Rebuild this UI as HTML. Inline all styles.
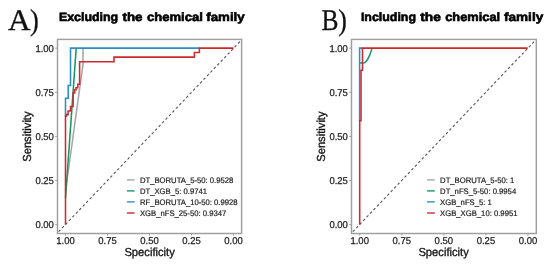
<!DOCTYPE html>
<html><head><meta charset="utf-8"><style>
html,body{margin:0;padding:0;background:#fff;}
svg{display:block;text-rendering:geometricPrecision;}
.pl{font-family:"Liberation Serif",serif;font-size:30px;fill:#111;stroke:#111;stroke-width:0.3px;}
.tt{font-family:"Liberation Sans",sans-serif;font-weight:bold;font-size:12px;fill:#000;stroke:#000;stroke-width:0.6px;}
.tk{font-family:"Liberation Sans",sans-serif;font-size:9.5px;fill:#1f1f1f;stroke:#1f1f1f;stroke-width:0.25px;}
.lg{font-family:"Liberation Sans",sans-serif;font-size:7.7px;fill:#1e1e1e;stroke:#1e1e1e;stroke-width:0.2px;}
.ax{font-family:"Liberation Sans",sans-serif;font-size:11.2px;fill:#111;stroke:#111;stroke-width:0.3px;}
</style></head><body>
<svg width="550" height="265" viewBox="0 0 550 265">
<rect width="550" height="265" fill="#fff"/>
<text x="7.9" y="30.1" class="pl" textLength="22.6" lengthAdjust="spacingAndGlyphs">A</text><text x="30.0" y="30.1" class="pl" textLength="8.8" lengthAdjust="spacingAndGlyphs">)</text>
<text x="321.6" y="30.0" class="pl" textLength="17" lengthAdjust="spacingAndGlyphs">B</text><text x="338.3" y="30.3" class="pl" textLength="8.6" lengthAdjust="spacingAndGlyphs">)</text>
<text x="58.90" y="20.5" class="tt" textLength="59.30" lengthAdjust="spacingAndGlyphs">Excluding</text>
<text x="122.50" y="20.5" class="tt" textLength="20.00" lengthAdjust="spacingAndGlyphs">the</text>
<text x="147.00" y="20.5" class="tt" textLength="55.90" lengthAdjust="spacingAndGlyphs">chemical</text>
<text x="206.30" y="20.5" class="tt" textLength="38.40" lengthAdjust="spacingAndGlyphs">family</text>
<text x="360.90" y="20.5" class="tt" textLength="55.10" lengthAdjust="spacingAndGlyphs">Including</text>
<text x="420.30" y="20.5" class="tt" textLength="20.60" lengthAdjust="spacingAndGlyphs">the</text>
<text x="445.20" y="20.5" class="tt" textLength="55.00" lengthAdjust="spacingAndGlyphs">chemical</text>
<text x="504.00" y="20.5" class="tt" textLength="39.20" lengthAdjust="spacingAndGlyphs">family</text>
<line x1="57.1" y1="233.3" x2="241.8" y2="39.6" stroke="#555" stroke-width="1.1" stroke-dasharray="2.6,2.4" stroke-dashoffset="2.8"/>
<polyline points="65.50,191.00 83.00,64.50 83.00,48.10" fill="none" stroke="#a6a6a6" stroke-width="1.55"/>
<polyline points="65.50,198.00 76.20,48.10" fill="none" stroke="#1a9768" stroke-width="1.55"/>
<polyline points="65.50,116.50 65.50,98.30 68.20,98.30 68.20,85.40 70.50,85.40 70.50,48.10 199.40,48.10" fill="none" stroke="#2b8fc4" stroke-width="1.55"/>
<polyline points="65.50,224.70 65.50,116.20 66.30,116.20 66.30,114.60 68.10,114.60 68.10,110.90 70.50,110.90 70.50,106.50 73.10,106.50 73.10,93.00 74.70,93.00 74.70,89.70 76.00,89.70 76.00,87.80 77.80,87.80 77.80,84.20 79.60,84.20 79.60,61.70 114.00,61.70 114.00,57.10 194.40,57.10 194.40,52.50 199.40,52.50 199.40,48.10 233.50,48.10" fill="none" stroke="#cf282e" stroke-width="1.55"/>
<rect x="57.5" y="39.4" width="184.10" height="194.1" fill="none" stroke="#9e9e9e" stroke-width="1.45"/>
<line x1="55.10" y1="48.10" x2="57.50" y2="48.10" stroke="#9e9e9e" stroke-width="1"/>
<text transform="translate(53.90,51.85) scale(1,1.04)" text-anchor="end" class="tk">1.00</text>
<line x1="65.50" y1="233.5" x2="65.50" y2="235.6" stroke="#9e9e9e" stroke-width="1"/>
<text transform="translate(65.50,243.60) scale(1,1.04)" text-anchor="middle" class="tk">1.00</text>
<line x1="55.10" y1="92.25" x2="57.50" y2="92.25" stroke="#9e9e9e" stroke-width="1"/>
<text transform="translate(53.90,96.00) scale(1,1.04)" text-anchor="end" class="tk">0.75</text>
<line x1="107.50" y1="233.5" x2="107.50" y2="235.6" stroke="#9e9e9e" stroke-width="1"/>
<text transform="translate(107.50,243.60) scale(1,1.04)" text-anchor="middle" class="tk">0.75</text>
<line x1="55.10" y1="136.40" x2="57.50" y2="136.40" stroke="#9e9e9e" stroke-width="1"/>
<text transform="translate(53.90,140.15) scale(1,1.04)" text-anchor="end" class="tk">0.50</text>
<line x1="149.50" y1="233.5" x2="149.50" y2="235.6" stroke="#9e9e9e" stroke-width="1"/>
<text transform="translate(149.50,243.60) scale(1,1.04)" text-anchor="middle" class="tk">0.50</text>
<line x1="55.10" y1="180.55" x2="57.50" y2="180.55" stroke="#9e9e9e" stroke-width="1"/>
<text transform="translate(53.90,184.30) scale(1,1.04)" text-anchor="end" class="tk">0.25</text>
<line x1="191.50" y1="233.5" x2="191.50" y2="235.6" stroke="#9e9e9e" stroke-width="1"/>
<text transform="translate(191.50,243.60) scale(1,1.04)" text-anchor="middle" class="tk">0.25</text>
<line x1="55.10" y1="224.70" x2="57.50" y2="224.70" stroke="#9e9e9e" stroke-width="1"/>
<text transform="translate(53.90,228.45) scale(1,1.04)" text-anchor="end" class="tk">0.00</text>
<line x1="233.50" y1="233.5" x2="233.50" y2="235.6" stroke="#9e9e9e" stroke-width="1"/>
<text transform="translate(233.50,243.60) scale(1,1.04)" text-anchor="middle" class="tk">0.00</text>
<line x1="351.3" y1="233.3" x2="536.0" y2="39.6" stroke="#555" stroke-width="1.1" stroke-dasharray="2.6,2.4" stroke-dashoffset="2.8"/>
<path d="M65.5,63 L69.4,63 C71.8,63 75.3,57 77.9,48.1" transform="translate(294.2,0)" fill="none" stroke="#1a9768" stroke-width="1.55"/>
<polyline points="359.60,121.00 359.60,48.10 362.50,48.10" fill="none" stroke="#2b8fc4" stroke-width="1.55"/>
<polyline points="359.70,224.70 359.70,120.80 361.00,120.80 361.00,70.20 362.50,70.20 362.50,48.10 527.70,48.10" fill="none" stroke="#cf282e" stroke-width="1.55"/>
<rect x="351.5" y="39.4" width="184.80" height="194.1" fill="none" stroke="#9e9e9e" stroke-width="1.45"/>
<line x1="349.10" y1="48.10" x2="351.50" y2="48.10" stroke="#9e9e9e" stroke-width="1"/>
<text transform="translate(347.90,51.85) scale(1,1.04)" text-anchor="end" class="tk">1.00</text>
<line x1="359.70" y1="233.5" x2="359.70" y2="235.6" stroke="#9e9e9e" stroke-width="1"/>
<text transform="translate(359.70,243.60) scale(1,1.04)" text-anchor="middle" class="tk">1.00</text>
<line x1="349.10" y1="92.25" x2="351.50" y2="92.25" stroke="#9e9e9e" stroke-width="1"/>
<text transform="translate(347.90,96.00) scale(1,1.04)" text-anchor="end" class="tk">0.75</text>
<line x1="401.77" y1="233.5" x2="401.77" y2="235.6" stroke="#9e9e9e" stroke-width="1"/>
<text transform="translate(401.77,243.60) scale(1,1.04)" text-anchor="middle" class="tk">0.75</text>
<line x1="349.10" y1="136.40" x2="351.50" y2="136.40" stroke="#9e9e9e" stroke-width="1"/>
<text transform="translate(347.90,140.15) scale(1,1.04)" text-anchor="end" class="tk">0.50</text>
<line x1="443.85" y1="233.5" x2="443.85" y2="235.6" stroke="#9e9e9e" stroke-width="1"/>
<text transform="translate(443.85,243.60) scale(1,1.04)" text-anchor="middle" class="tk">0.50</text>
<line x1="349.10" y1="180.55" x2="351.50" y2="180.55" stroke="#9e9e9e" stroke-width="1"/>
<text transform="translate(347.90,184.30) scale(1,1.04)" text-anchor="end" class="tk">0.25</text>
<line x1="485.93" y1="233.5" x2="485.93" y2="235.6" stroke="#9e9e9e" stroke-width="1"/>
<text transform="translate(485.93,243.60) scale(1,1.04)" text-anchor="middle" class="tk">0.25</text>
<line x1="349.10" y1="224.70" x2="351.50" y2="224.70" stroke="#9e9e9e" stroke-width="1"/>
<text transform="translate(347.90,228.45) scale(1,1.04)" text-anchor="end" class="tk">0.00</text>
<line x1="528.00" y1="233.5" x2="528.00" y2="235.6" stroke="#9e9e9e" stroke-width="1"/>
<text transform="translate(528.00,243.60) scale(1,1.04)" text-anchor="middle" class="tk">0.00</text>
<line x1="126.90" y1="179.9" x2="134.60" y2="179.9" stroke="#a6a6a6" stroke-width="1.4"/>
<text transform="translate(139.90,182.80) scale(1,1.04)" class="lg">DT_BORUTA_5-50: 0.9528</text>
<line x1="126.90" y1="190.9" x2="134.60" y2="190.9" stroke="#1a9768" stroke-width="1.4"/>
<text transform="translate(139.90,193.80) scale(1,1.04)" class="lg">DT_XGB_5: 0.9741</text>
<line x1="126.90" y1="201.9" x2="134.60" y2="201.9" stroke="#2b8fc4" stroke-width="1.4"/>
<text transform="translate(139.90,204.80) scale(1,1.04)" class="lg">RF_BORUTA_10-50: 0.9928</text>
<line x1="126.90" y1="213.0" x2="134.60" y2="213.0" stroke="#cf282e" stroke-width="1.4"/>
<text transform="translate(139.90,215.90) scale(1,1.04)" class="lg">XGB_nFS_25-50: 0.9347</text>
<line x1="427.10" y1="179.9" x2="434.80" y2="179.9" stroke="#a6a6a6" stroke-width="1.4"/>
<text transform="translate(440.10,182.80) scale(1,1.04)" class="lg">DT_BORUTA_5-50: 1</text>
<line x1="427.10" y1="190.9" x2="434.80" y2="190.9" stroke="#1a9768" stroke-width="1.4"/>
<text transform="translate(440.10,193.80) scale(1,1.04)" class="lg">DT_nFS_5-50: 0.9954</text>
<line x1="427.10" y1="201.9" x2="434.80" y2="201.9" stroke="#2b8fc4" stroke-width="1.4"/>
<text transform="translate(440.10,204.80) scale(1,1.04)" class="lg">XGB_nFS_5: 1</text>
<line x1="427.10" y1="213.0" x2="434.80" y2="213.0" stroke="#cf282e" stroke-width="1.4"/>
<text transform="translate(440.10,215.90) scale(1,1.04)" class="lg">XGB_XGB_10: 0.9951</text>
<text transform="translate(149.60,256.30) scale(1,1.04)" text-anchor="middle" class="ax">Specificity</text>
<text transform="translate(443.60,256.30) scale(1,1.04)" text-anchor="middle" class="ax">Specificity</text>
<text transform="translate(30.60,136.60) rotate(-90) scale(1,1.04)" text-anchor="middle" class="ax">Sensitivity</text>
<text transform="translate(324.80,136.60) rotate(-90) scale(1,1.04)" text-anchor="middle" class="ax">Sensitivity</text>
</svg>
</body></html>
